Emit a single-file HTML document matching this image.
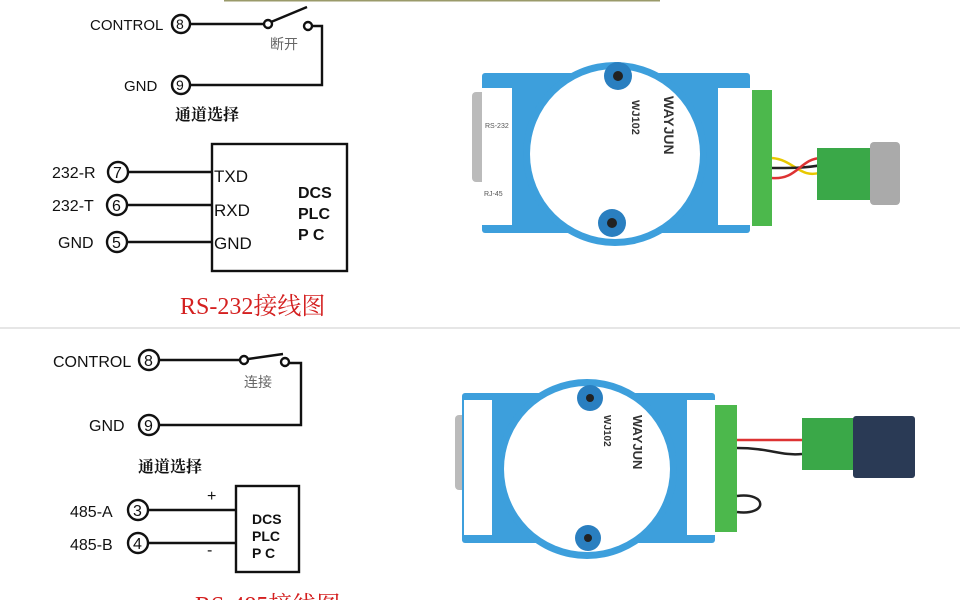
<!DOCTYPE html>
<html><head><meta charset="utf-8"><style>
html,body{margin:0;padding:0;background:#fff;width:960px;height:600px;overflow:hidden}
svg{display:block}
text{font-family:"Liberation Sans","Noto Sans CJK SC",sans-serif}
.s{font-family:"Liberation Serif","Noto Serif CJK SC",serif}
</style></head><body>
<svg width="960" height="600" viewBox="0 0 960 600" xmlns="http://www.w3.org/2000/svg">
<line x1="224" y1="0.5" x2="660" y2="0.5" stroke="#9a9a6a" stroke-width="2"/>
<g stroke="#111" stroke-width="2.4" fill="none">
 <circle cx="181" cy="24" r="9"/><circle cx="181" cy="85" r="9"/>
 <polyline points="190,24 264,24"/><line x1="271" y1="22" x2="307" y2="7"/>
 <circle cx="268" cy="24" r="4"/><circle cx="308" cy="26" r="4"/>
 <polyline points="312,26 322,26 322,85 190,85"/>
 <rect x="212" y="144" width="135" height="127"/>
 <circle cx="118" cy="172" r="10"/><circle cx="117" cy="205" r="10"/><circle cx="117" cy="242" r="10"/>
 <line x1="128" y1="172" x2="212" y2="172"/><line x1="127" y1="205" x2="212" y2="205"/><line x1="127" y1="242" x2="212" y2="242"/>
</g>
<g font-size="15" fill="#111">
 <text x="90" y="30">CONTROL</text><text x="124" y="91">GND</text>
 <text x="176" y="29" font-size="14">8</text><text x="176" y="90" font-size="14">9</text>
 <text x="52" y="178" font-size="16">232-R</text><text x="52" y="211" font-size="16">232-T</text><text x="58" y="248" font-size="16">GND</text>
 <text x="113" y="178" font-size="16">7</text><text x="112" y="211" font-size="16">6</text><text x="112" y="248" font-size="16">5</text>
 <text x="214" y="182" font-size="17">TXD</text><text x="214" y="216" font-size="17">RXD</text><text x="214" y="249" font-size="17">GND</text>
 <g font-weight="bold" font-size="16"><text x="298" y="198">DCS</text><text x="298" y="219">PLC</text><text x="298" y="240">P  C</text></g>
</g>
<text x="270" y="49" font-size="14" fill="#666">断开</text>
<text x="175" y="120" font-size="16" font-weight="bold" class="s" fill="#111">通道选择</text>
<text x="180" y="314" font-size="24" class="s" fill="#d42020">RS-232接线图</text>
<line x1="0" y1="328" x2="960" y2="328" stroke="#ddd" stroke-width="1.5"/>

<g stroke="#111" stroke-width="2.4" fill="none">
 <circle cx="149" cy="360" r="10"/><circle cx="149" cy="425" r="10"/>
 <line x1="159" y1="360" x2="240" y2="360"/><circle cx="244" cy="360" r="4"/>
 <line x1="248" y1="359" x2="283" y2="354"/><circle cx="285" cy="362" r="4"/>
 <polyline points="289,363 301,363 301,425 159,425"/>
 <rect x="236" y="486" width="63" height="86"/>
 <circle cx="138" cy="510" r="10"/><circle cx="138" cy="543" r="10"/>
 <line x1="148" y1="510" x2="236" y2="510"/><line x1="148" y1="543" x2="236" y2="543"/>
</g>
<g fill="#111" font-size="16">
 <text x="53" y="367">CONTROL</text><text x="89" y="431">GND</text>
 <text x="144" y="366">8</text><text x="144" y="431">9</text>
 <text x="70" y="517">485-A</text><text x="70" y="550">485-B</text>
 <text x="133" y="516">3</text><text x="133" y="549">4</text>
 <text x="207" y="501">+</text><text x="207" y="555">-</text>
 <g font-weight="bold" font-size="14"><text x="252" y="524">DCS</text><text x="252" y="541">PLC</text><text x="252" y="558">P  C</text></g>
</g>
<text x="244" y="387" font-size="14" fill="#666">连接</text>
<text x="138" y="472" font-size="16" font-weight="bold" class="s" fill="#111">通道选择</text>
<text x="195" y="613" font-size="24" class="s" fill="#d42020">RS-485接线图</text>

<!-- device top -->
<g>
 <rect x="472" y="92" width="16" height="90" rx="4" fill="#bbb"/>
 <rect x="482" y="73" width="268" height="160" rx="3" fill="#3d9fdc"/>
 <rect x="482" y="88" width="30" height="137" fill="#fff"/>
 <rect x="718" y="88" width="32" height="137" fill="#fff"/>
 <circle cx="615" cy="154" r="92" fill="#3d9fdc"/>
 <circle cx="615" cy="154" r="85" fill="#fff"/>
 <circle cx="618" cy="76" r="14" fill="#2a7fc0"/><circle cx="618" cy="76" r="5" fill="#222"/>
 <circle cx="612" cy="223" r="14" fill="#2a7fc0"/><circle cx="612" cy="223" r="5" fill="#222"/>
 <rect x="752" y="90" width="20" height="136" fill="#4cb84c"/>
 <text x="485" y="128" font-size="7" fill="#555">RS-232</text>
 <text x="484" y="196" font-size="7" fill="#555">RJ-45</text>
 <text transform="translate(664,96) rotate(90)" font-size="14" font-weight="bold" fill="#333">WAYJUN</text>
 <text transform="translate(632,100) rotate(90)" font-size="11" font-weight="bold" fill="#333">WJ102</text>
 <path d="M772,158 C795,160 800,180 822,172" stroke="#e8c800" stroke-width="2.5" fill="none"/>
 <path d="M772,168 C795,168 805,168 822,165" stroke="#222" stroke-width="2.5" fill="none"/>
 <path d="M772,178 C798,180 800,158 822,158" stroke="#d33" stroke-width="2.5" fill="none"/>
 <rect x="817" y="148" width="53" height="52" fill="#3aa848"/>
 <rect x="870" y="142" width="30" height="63" rx="4" fill="#aaa"/>
</g>
<!-- device bottom -->
<g>
 <rect x="455" y="415" width="14" height="75" rx="4" fill="#bbb"/>
 <rect x="462" y="393" width="253" height="150" rx="3" fill="#3d9fdc"/>
 <rect x="464" y="400" width="28" height="135" fill="#fff"/>
 <rect x="687" y="400" width="28" height="135" fill="#fff"/>
 <circle cx="587" cy="469" r="90" fill="#3d9fdc"/>
 <circle cx="587" cy="469" r="83" fill="#fff"/>
 <circle cx="590" cy="398" r="13" fill="#2a7fc0"/><circle cx="590" cy="398" r="4" fill="#222"/>
 <circle cx="588" cy="538" r="13" fill="#2a7fc0"/><circle cx="588" cy="538" r="4" fill="#222"/>
 <rect x="715" y="405" width="22" height="127" fill="#4cb84c"/>
 <text transform="translate(633,415) rotate(90)" font-size="13" font-weight="bold" fill="#333">WAYJUN</text>
 <text transform="translate(604,415) rotate(90)" font-size="10" font-weight="bold" fill="#333">WJ102</text>
 <path d="M737,440 L802,440" stroke="#d33" stroke-width="2.5"/>
 <path d="M737,448 C770,448 780,456 802,454" stroke="#222" stroke-width="2.5" fill="none"/>
 <path d="M737,496 C768,492 768,516 737,512" stroke="#222" stroke-width="2.5" fill="none"/>
 <rect x="802" y="418" width="51" height="52" fill="#3aa848"/>
 <rect x="853" y="416" width="62" height="62" rx="3" fill="#2a3a55"/>
</g>
</svg>
</body></html>
